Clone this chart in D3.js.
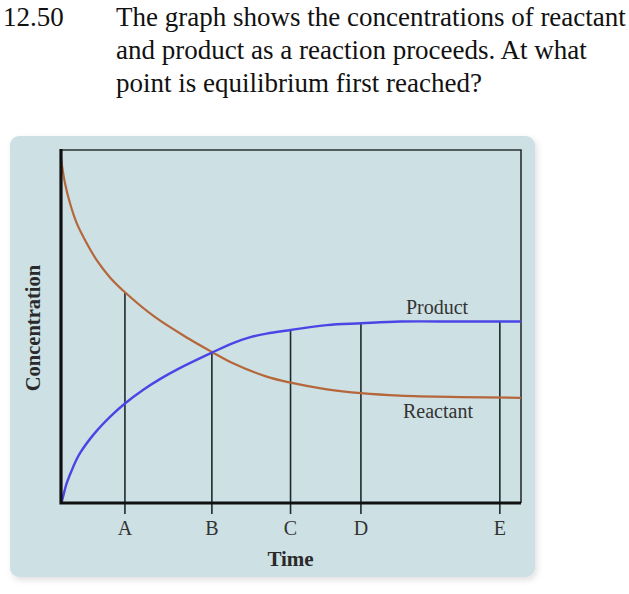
<!DOCTYPE html>
<html>
<head>
<meta charset="utf-8">
<script src="https://cdn.jsdelivr.net/npm/d3@7"></script>
<style>
  body { margin: 0; background: #fff; }
  svg { display: block; }
</style>
</head>
<body>
<svg id="chart"></svg>
<script>
const questionNumber = "12.50";
const questionLines = [
  "The graph shows the concentrations of reactant",
  "and product as a reaction proceeds. At what",
  "point is equilibrium first reached?"
];

// time (0-100) vs concentration (0-1)
const reactantTimes = [0, 0.15, 0.87, 1.96, 3.41, 5.59, 7.76, 10.65, 13.9, 20.4, 27.7, 32.8, 37.4, 44.7, 49.9, 57.8, 65.2, 73.7, 86.7, 100];
const reactantValues = [0.977, 0.962, 0.906, 0.849, 0.793, 0.736, 0.688, 0.639, 0.597, 0.527, 0.466, 0.428, 0.396, 0.358, 0.341, 0.322, 0.311, 0.304, 0.3, 0.298];
const productTimes = [0, 0.15, 1.24, 2.67, 4.13, 7.02, 10.65, 13.9, 17.9, 21.5, 25.2, 32.8, 37.4, 41, 44.7, 49.9, 57.8, 65.2, 73.7, 86.7, 100];
const productValues = [0, 0.004, 0.056, 0.103, 0.141, 0.193, 0.244, 0.282, 0.321, 0.351, 0.378, 0.426, 0.453, 0.469, 0.48, 0.49, 0.504, 0.509, 0.514, 0.514, 0.514];

const markerLabels = ["A", "B", "C", "D", "E"];
const markerTimes = [13.9, 32.8, 49.9, 65.2, 95.4];
const markerTops = [0.597, 0.427, 0.49, 0.509, 0.514];

const width = 629;
const height = 594;

const svg = d3.select("#chart").attr("width", width).attr("height", height);

const serif = "'Liberation Serif', 'Times New Roman', serif";

// question text
svg.append("text")
  .attr("x", 3).attr("y", 26)
  .attr("font-family", serif).attr("font-size", 27)
  .attr("fill", "#111")
  .text(questionNumber);

svg.append("g")
  .selectAll("text")
  .data(questionLines)
  .join("text")
  .attr("x", 116)
  .attr("y", (d, i) => 26 + i * 33)
  .attr("font-family", serif)
  .attr("font-size", 27)
  .attr("fill", "#111")
  .text((d) => d);

// panel
const defs = svg.append("defs");
const shadow = defs.append("filter").attr("id", "shadow")
  .attr("x", "-5%").attr("y", "-5%").attr("width", "110%").attr("height", "110%");
shadow.append("feDropShadow")
  .attr("dx", 2).attr("dy", 3).attr("stdDeviation", 3)
  .attr("flood-color", "#000").attr("flood-opacity", 0.12);

svg.append("rect")
  .attr("x", 10).attr("y", 136)
  .attr("width", 525).attr("height", 441)
  .attr("rx", 9)
  .attr("fill", "#cde0e3")
  .attr("filter", "url(#shadow)");

const x = d3.scaleLinear().domain([0, 100]).range([61, 521]);
const y = d3.scaleLinear().domain([0, 1]).range([503, 150]);

// marker lines
svg.append("g")
  .selectAll("line")
  .data(markerTimes)
  .join("line")
  .attr("x1", (d) => x(d))
  .attr("x2", (d) => x(d))
  .attr("y1", (d, i) => y(markerTops[i]))
  .attr("y2", y(0) + 11)
  .attr("stroke", "#1e2a2c")
  .attr("stroke-width", 1.6);

// frame top/right
svg.append("path")
  .attr("d", `M${x(0)},${y(1)}H${x(100)}V${y(0)}`)
  .attr("fill", "none")
  .attr("stroke", "#2a3133")
  .attr("stroke-width", 1.6);

const line = d3.line()
  .x((d) => x(d[0]))
  .y((d) => y(d[1]))
  .curve(d3.curveCatmullRom.alpha(0.5));

svg.append("path")
  .datum(d3.zip(reactantTimes, reactantValues))
  .attr("d", line)
  .attr("fill", "none")
  .attr("stroke", "#b5663a")
  .attr("stroke-width", 2.2);

svg.append("path")
  .datum(d3.zip(productTimes, productValues))
  .attr("d", line)
  .attr("fill", "none")
  .attr("stroke", "#4a46e6")
  .attr("stroke-width", 2.4);

// axes (left and bottom, thick)
svg.append("path")
  .attr("d", `M${x(0)},${y(1) - 1}V${y(0)}H${x(100)}`)
  .attr("fill", "none")
  .attr("stroke", "#111")
  .attr("stroke-width", 3.2);

// marker labels
svg.append("g")
  .selectAll("text")
  .data(markerLabels)
  .join("text")
  .attr("x", (d, i) => x(markerTimes[i]))
  .attr("y", 535)
  .attr("text-anchor", "middle")
  .attr("font-family", serif)
  .attr("font-size", 20)
  .attr("fill", "#333")
  .text((d) => d);

svg.append("text")
  .attr("x", x(49.9)).attr("y", 566)
  .attr("text-anchor", "middle")
  .attr("font-family", serif)
  .attr("font-weight", "bold")
  .attr("font-size", 21)
  .attr("fill", "#2a2a2a")
  .text("Time");

svg.append("text")
  .attr("transform", "translate(40,328) rotate(-90)")
  .attr("text-anchor", "middle")
  .attr("font-family", serif)
  .attr("font-weight", "bold")
  .attr("font-size", 20.5)
  .attr("fill", "#2a2a2a")
  .text("Concentration");

// series labels
svg.append("text")
  .attr("x", 437).attr("y", 314)
  .attr("text-anchor", "middle")
  .attr("font-family", serif)
  .attr("font-size", 20)
  .attr("fill", "#333")
  .text("Product");

svg.append("text")
  .attr("x", 438).attr("y", 418)
  .attr("text-anchor", "middle")
  .attr("font-family", serif)
  .attr("font-size", 20)
  .attr("fill", "#333")
  .text("Reactant");
</script>
</body>
</html>
